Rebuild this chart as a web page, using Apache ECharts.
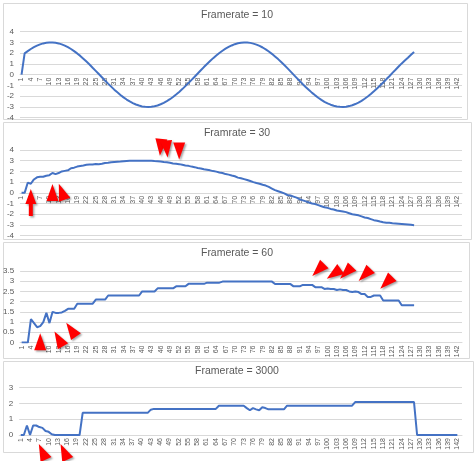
<!DOCTYPE html>
<html lang="en">
<head>
    <meta charset="UTF-8">
    <title>Framerate</title>
    <script src="https://cdn.jsdelivr.net/npm/echarts@6/dist/echarts.min.js"></script>
    <style>
        body {
            margin: 0;
            background: #fff;
        }
        #chart {
            width: 474px;
            height: 461px;
        }
    </style>
</head>
<body>
    <div id="chart"></div>

    <script>
        // frame numbers along the category axis
        const frames = Array.from({ length: 143 }, (_, i) => String(i + 1));

        const titles = ['Framerate = 10', 'Framrate = 30', 'Framerate = 60', 'Framerate = 3000'];

        // series values
        const fr10 = [
            0, 1.98, 2.19, 2.39, 2.56, 2.70, 2.82, 2.91, 2.97, 3.00,
            3.00, 2.97, 2.91, 2.82, 2.70, 2.56, 2.39, 2.19, 1.98, 1.75,
            1.49, 1.22, 0.95, 0.65, 0.36, 0.06, -0.24, -0.54, -0.83, -1.11,
            -1.39, -1.64, -1.88, -2.11, -2.31, -2.49, -2.64, -2.77, -2.87, -2.95,
            -2.99, -3.00, -2.98, -2.93, -2.86, -2.75, -2.62, -2.46, -2.28, -2.07,
            -1.84, -1.60, -1.34, -1.06, -0.78, -0.48, -0.19, 0.11, 0.41, 0.71,
            1.00, 1.27, 1.54, 1.79, 2.02, 2.23, 2.42, 2.58, 2.72, 2.84,
            2.92, 2.97, 3.00, 2.99, 2.96, 2.89, 2.80, 2.68, 2.53, 2.36,
            2.16, 1.94, 1.70, 1.45, 1.18, 0.90, 0.61, 0.31, 0.01, -0.29,
            -0.59, -0.88, -1.16, -1.43, -1.69, -1.92, -2.14, -2.34, -2.52, -2.67,
            -2.79, -2.89, -2.95, -2.99, -3.00, -2.98, -2.92, -2.84, -2.73, -2.60,
            -2.43, -2.24, -2.03, -1.80, -1.55, -1.29, -1.01, -0.73, -0.43, -0.14,
            0.17, 0.46, 0.76, 1.05, 1.32, 1.58, 1.85, 2.12
        ];
        const fr30 = [
            0, 0, 0.95, 0.85, 1.25, 1.45, 1.5, 1.5, 1.6, 1.65,
            1.85, 1.75, 1.85, 2.0, 2.05, 2.1, 2.3, 2.35, 2.45, 2.5,
            2.55, 2.62, 2.65, 2.65, 2.7, 2.68, 2.72, 2.78, 2.8, 2.85,
            2.88, 2.9, 2.92, 2.95, 2.97, 2.99, 3.0, 3.0, 3.0, 3.0,
            3.0, 3.0, 3.0, 2.97, 2.95, 2.92, 2.88, 2.85, 2.8, 2.75,
            2.72, 2.68, 2.62, 2.55, 2.52, 2.45, 2.4, 2.32, 2.28, 2.2,
            2.15, 2.1, 2.03, 1.98, 1.9, 1.85, 1.75, 1.7, 1.62, 1.55,
            1.42, 1.36, 1.28, 1.2, 1.1, 1.0, 0.92, 0.85, 0.75, 0.68,
            0.55, 0.4, 0.25, 0.15, 0.05, -0.05, -0.2, -0.25, -0.35, -0.45,
            -0.6, -0.7, -0.8, -0.9, -1.0, -1.05, -1.15, -1.25, -1.35, -1.4,
            -1.5, -1.55, -1.65, -1.7, -1.75, -1.8, -1.9, -2.0, -2.05, -2.1,
            -2.2, -2.3, -2.35, -2.45, -2.55, -2.6, -2.68, -2.75, -2.78, -2.8,
            -2.84, -2.86, -2.88, -2.9, -2.92, -2.95, -2.98, -3.02
        ];
        const fr60 = [
            0, 0, 0, 1.15, 0.95, 0.75, 0.8, 1.0, 1.45, 0.95,
            1.5, 1.45, 1.45, 1.47, 1.55, 1.65, 1.65, 1.65, 1.9, 1.9,
            1.9, 1.9, 1.9, 1.9, 2.1, 2.1, 2.1, 2.1, 2.3, 2.3,
            2.3, 2.3, 2.3, 2.3, 2.3, 2.3, 2.3, 2.3, 2.3, 2.5,
            2.5, 2.5, 2.5, 2.5, 2.65, 2.65, 2.65, 2.65, 2.65, 2.65,
            2.75, 2.75, 2.75, 2.75, 2.87, 2.87, 2.87, 2.87, 2.87, 2.87,
            2.93, 2.93, 2.93, 2.93, 2.93, 2.98, 2.98, 2.98, 2.98, 2.98,
            2.98, 2.98, 2.98, 2.98, 2.98, 2.98, 2.98, 2.98, 2.98, 2.98,
            2.98, 2.98, 2.86, 2.86, 2.86, 2.86, 2.86, 2.86, 2.75, 2.75,
            2.75, 2.82, 2.82, 2.82, 2.82, 2.71, 2.71, 2.71, 2.62, 2.64,
            2.62, 2.62, 2.57, 2.6, 2.57, 2.57, 2.5, 2.47, 2.5, 2.47,
            2.37, 2.37, 2.23, 2.23, 2.3, 2.3, 2.3, 2.06, 2.06, 2.06,
            2.06, 2.06, 2.06, 1.82, 1.82, 1.82, 1.82, 1.82
        ];
        const fr3000 = [
            0, 0, 0.6, 0, 0.6, 0.6, 0.5, 0.45, 0.25, 0.2,
            0.05, 0, 0, 0, 0, 0, 0, 0, 0, 0,
            1.4, 1.4, 1.4, 1.4, 1.4, 1.4, 1.4, 1.4, 1.4, 1.4,
            1.4, 1.4, 1.4, 1.4, 1.4, 1.4, 1.4, 1.4, 1.4, 1.4,
            1.4, 1.4, 1.6, 1.65, 1.65, 1.65, 1.65, 1.65, 1.65, 1.65,
            1.65, 1.65, 1.65, 1.65, 1.65, 1.65, 1.65, 1.65, 1.65, 1.65,
            1.65, 1.65, 1.65, 1.65, 1.85, 1.85, 1.85, 1.85, 1.85, 1.85,
            1.85, 1.85, 1.85, 1.7, 1.56, 1.7, 1.62, 1.56, 1.75, 1.7,
            1.62, 1.62, 1.62, 1.62, 1.62, 1.62, 1.85, 1.85, 1.85, 1.85,
            1.85, 1.85, 1.85, 1.85, 1.85, 1.85, 1.85, 1.85, 1.85, 1.85,
            1.85, 1.85, 1.85, 1.85, 1.85, 1.85, 1.85, 1.85, 2.08, 2.08,
            2.08, 2.08, 2.08, 2.08, 2.08, 2.08, 2.08, 2.08, 2.08, 2.08,
            2.08, 2.08, 2.08, 2.08, 2.08, 2.08, 2.08, 2.08, 0, 0,
            0, 0, 0, 0, 0, 0, 0, 0, 0, 0,
            0, 0
        ];

        // red arrow annotations: [frame, value] where each one sits, and the way it points (degrees)
        const arrows30 = [[3.7, -0.9], [10.5, 0.03], [13.9, 0.1], [45.8, 4.25], [48, 4.1], [52.1, 3.9]];
        const turn30 = [0, 0, 20, 175, 185, 180];
        const arrows60 = [[7, 0.04], [13.3, 0.18], [17.2, 0.63], [96.8, 3.55], [101.7, 3.36], [106, 3.42], [112.4, 3.31], [118.8, 2.92]];
        const turn60 = [0, 30, 35, 135, 125, 135, 135, 135];
        const arrows3000 = [[7.6, -1.06], [14.5, -1.06]];
        const turn3000 = [25, 25];

        const grey = '#595959';
        const gridGrey = '#d9d9d9';
        const font = 'Liberation Sans, Arial, sans-serif';

        const grids = [
            { left: 20, right: 12, top: 31.7, height: 86 },
            { left: 20, right: 12, top: 150, height: 85.7 },
            { left: 20, right: 12, top: 271, height: 71.5 },
            { left: 19.2, right: 12, top: 387.5, height: 47.5 }
        ];
        const yRanges = [
            { min: -4, max: 4, interval: 1 },
            { min: -4, max: 4, interval: 1 },
            { min: 0, max: 3.5, interval: 0.5 },
            { min: 0, max: 3, interval: 1 }
        ];
        // the first two panels carry their frame labels on the zero line
        const axisLift = [-43, -42.85, 0, 0];
        const titleTops = [10, 128, 248, 366];
        const boxes = [
            [3, 3, 464, 116],
            [3, 122, 468, 117],
            [3, 242, 466, 116],
            [3, 361, 470, 91]
        ];
        const seriesData = [fr10, fr30, fr60, fr3000];

        const chart = echarts.init(document.getElementById('chart'));

        const option = {
            animation: false,
            backgroundColor: '#fff',
            textStyle: { fontFamily: font },
            title: titles.map((t, i) => ({
                text: t,
                left: 'center',
                top: titleTops[i],
                padding: 0,
                textStyle: { fontSize: 10.5, fontWeight: 'normal', color: grey, fontFamily: font }
            })),
            grid: grids,
            xAxis: grids.map((g, i) => ({
                type: 'category',
                gridIndex: i,
                data: frames,
                boundaryGap: true,
                position: 'bottom',
                offset: axisLift[i],
                axisLine: { onZero: false, lineStyle: { color: gridGrey } },
                axisTick: { show: false },
                axisLabel: {
                    interval: 2,
                    rotate: 90,
                    fontSize: 7,
                    color: grey,
                    margin: 3,
                    fontFamily: font
                }
            })),
            yAxis: yRanges.map((r, i) => ({
                type: 'value',
                gridIndex: i,
                min: r.min,
                max: r.max,
                interval: r.interval,
                axisLine: { show: false },
                axisTick: { show: false },
                axisLabel: { fontSize: 8, color: grey, margin: 6, fontFamily: font },
                splitLine: { lineStyle: { color: gridGrey, width: 1 } }
            })),
            series: seriesData.map((d, i) => ({
                type: 'line',
                xAxisIndex: i,
                yAxisIndex: i,
                data: d,
                showSymbol: false,
                lineStyle: { color: '#4472c4', width: 2 },
                itemStyle: { color: '#4472c4' }
            }))
        };

        chart.setOption(option);

        // arrows may sit outside a plot's value range, so place them through the axes as graphics
        const arrowStyle = {
            fill: '#ff0000',
            shadowColor: 'rgba(0,0,0,0.35)',
            shadowBlur: 2,
            shadowOffsetX: 1.5,
            shadowOffsetY: 1.5
        };
        const triangle = [[0, -8.5], [6, 8.5], [-6, 8.5]];
        const stemArrow = [[0, -13.5], [5.5, 1.5], [2, 1.5], [2, 13.5], [-2, 13.5], [-2, 1.5], [-5.5, 1.5]];

        function arrowGraphics(gridIndex, pos, turn, firstStem) {
            return pos.map((p, i) => {
                const px = chart.convertToPixel({ gridIndex: gridIndex }, [p[0] - 1, p[1]]);
                return {
                    type: 'polygon',
                    z: 100,
                    silent: true,
                    x: px[0],
                    y: px[1],
                    rotation: turn[i] * Math.PI / 180,
                    shape: { points: firstStem && i === 0 ? stemArrow : triangle },
                    style: arrowStyle
                };
            });
        }

        const boxGraphics = boxes.map(b => ({
            type: 'rect',
            z: -10,
            silent: true,
            shape: { x: b[0] + 0.5, y: b[1] + 0.5, width: b[2], height: b[3] },
            style: { fill: '#fff', stroke: gridGrey, lineWidth: 1 }
        }));

        chart.setOption({
            graphic: boxGraphics
                .concat(arrowGraphics(1, arrows30, turn30, true))
                .concat(arrowGraphics(2, arrows60, turn60, false))
                .concat(arrowGraphics(3, arrows3000, turn3000, false))
        });
    </script>
</body>
</html>
